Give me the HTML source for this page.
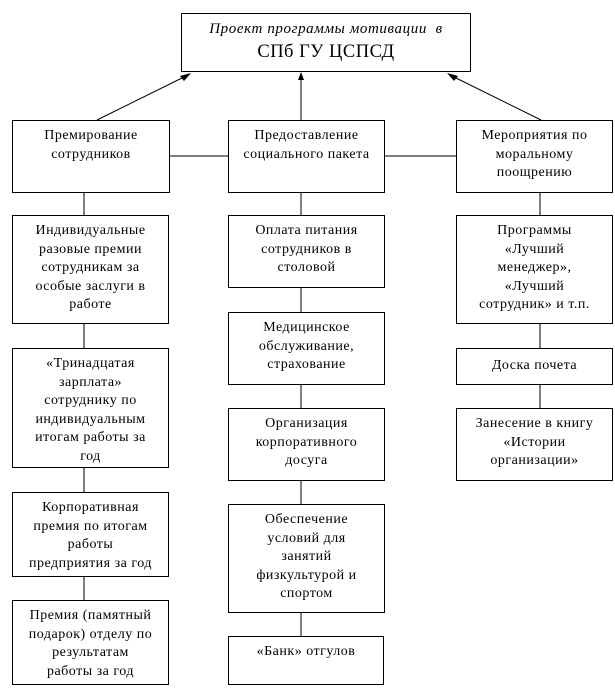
<!DOCTYPE html>
<html><head><meta charset="utf-8"><style>
body{margin:0;width:615px;height:696px;background:#fff;position:relative;overflow:hidden;font-family:"Liberation Serif","DejaVu Serif",serif;}
.b{position:absolute;border:1px solid #000;box-sizing:border-box;text-align:center;font-size:14px;letter-spacing:0.5px;line-height:18.5px;padding-top:6px;background:#fff;white-space:nowrap;}
svg{position:absolute;left:0;top:0}
</style></head><body>
<svg width="615" height="696">
<g stroke="#000" stroke-width="1" fill="none">
<line x1="97" y1="120" x2="186" y2="76"/>
<line x1="301" y1="120" x2="301" y2="78"/>
<line x1="541" y1="120" x2="452" y2="76"/>
<line x1="170" y1="156" x2="228" y2="156"/>
<line x1="385" y1="156" x2="456" y2="156"/>
<line x1="84" y1="192" x2="84" y2="600"/>
<line x1="301" y1="192" x2="301" y2="636"/>
<line x1="540" y1="192" x2="540" y2="408"/>
</g>
<g fill="#000">
<polygon points="191,73 180,76 184,81"/>
<polygon points="301,72 298,80 304,80"/>
<polygon points="447,73 454,81 458,76"/>
</g>
</svg>
<div class="b" style="left:181px;top:13px;width:290px;height:59px;padding-top:6px;"><i style="font-size:15px;letter-spacing:0.6px">Проект программы мотивации&nbsp; в</i><br><span style="font-size:18.5px;line-height:24px;letter-spacing:0.5px">СПб ГУ ЦСПСД</span></div>

<div class="b" style="left:12px;top:120px;width:158px;height:73px">Премирование<br>сотрудников</div>
<div class="b" style="left:228px;top:120px;width:157px;height:73px">Предоставление<br>социального пакета</div>
<div class="b" style="left:456px;top:120px;width:157px;height:73px">Мероприятия по<br>моральному<br>поощрению</div>

<div class="b" style="left:12px;top:215px;width:157px;height:109px">Индивидуальные<br>разовые премии<br>сотрудникам за<br>особые заслуги в<br>работе</div>
<div class="b" style="left:12px;top:348px;width:157px;height:120px">«Тринадцатая<br>зарплата»<br>сотруднику по<br>индивидуальным<br>итогам работы за<br>год</div>
<div class="b" style="left:12px;top:492px;width:157px;height:85px">Корпоративная<br>премия по итогам<br>работы<br>предприятия за год</div>
<div class="b" style="left:12px;top:600px;width:157px;height:85px">Премия (памятный<br>подарок) отделу по<br>результатам<br>работы за год</div>

<div class="b" style="left:228px;top:215px;width:157px;height:73px">Оплата питания<br>сотрудников в<br>столовой</div>
<div class="b" style="left:228px;top:312px;width:157px;height:73px">Медицинское<br>обслуживание,<br>страхование</div>
<div class="b" style="left:228px;top:408px;width:157px;height:73px">Организация<br>корпоративного<br>досуга</div>
<div class="b" style="left:228px;top:504px;width:157px;height:109px">Обеспечение<br>условий для<br>занятий<br>физкультурой и<br>спортом</div>
<div class="b" style="left:228px;top:636px;width:156px;height:49px">«Банк» отгулов</div>

<div class="b" style="left:456px;top:215px;width:157px;height:109px">Программы<br>«Лучший<br>менеджер»,<br>«Лучший<br>сотрудник» и т.п.</div>
<div class="b" style="left:456px;top:348px;width:157px;height:37px;padding-top:8px">Доска почета</div>
<div class="b" style="left:456px;top:408px;width:157px;height:73px">Занесение в книгу<br>«Истории<br>организации»</div>
</body></html>
